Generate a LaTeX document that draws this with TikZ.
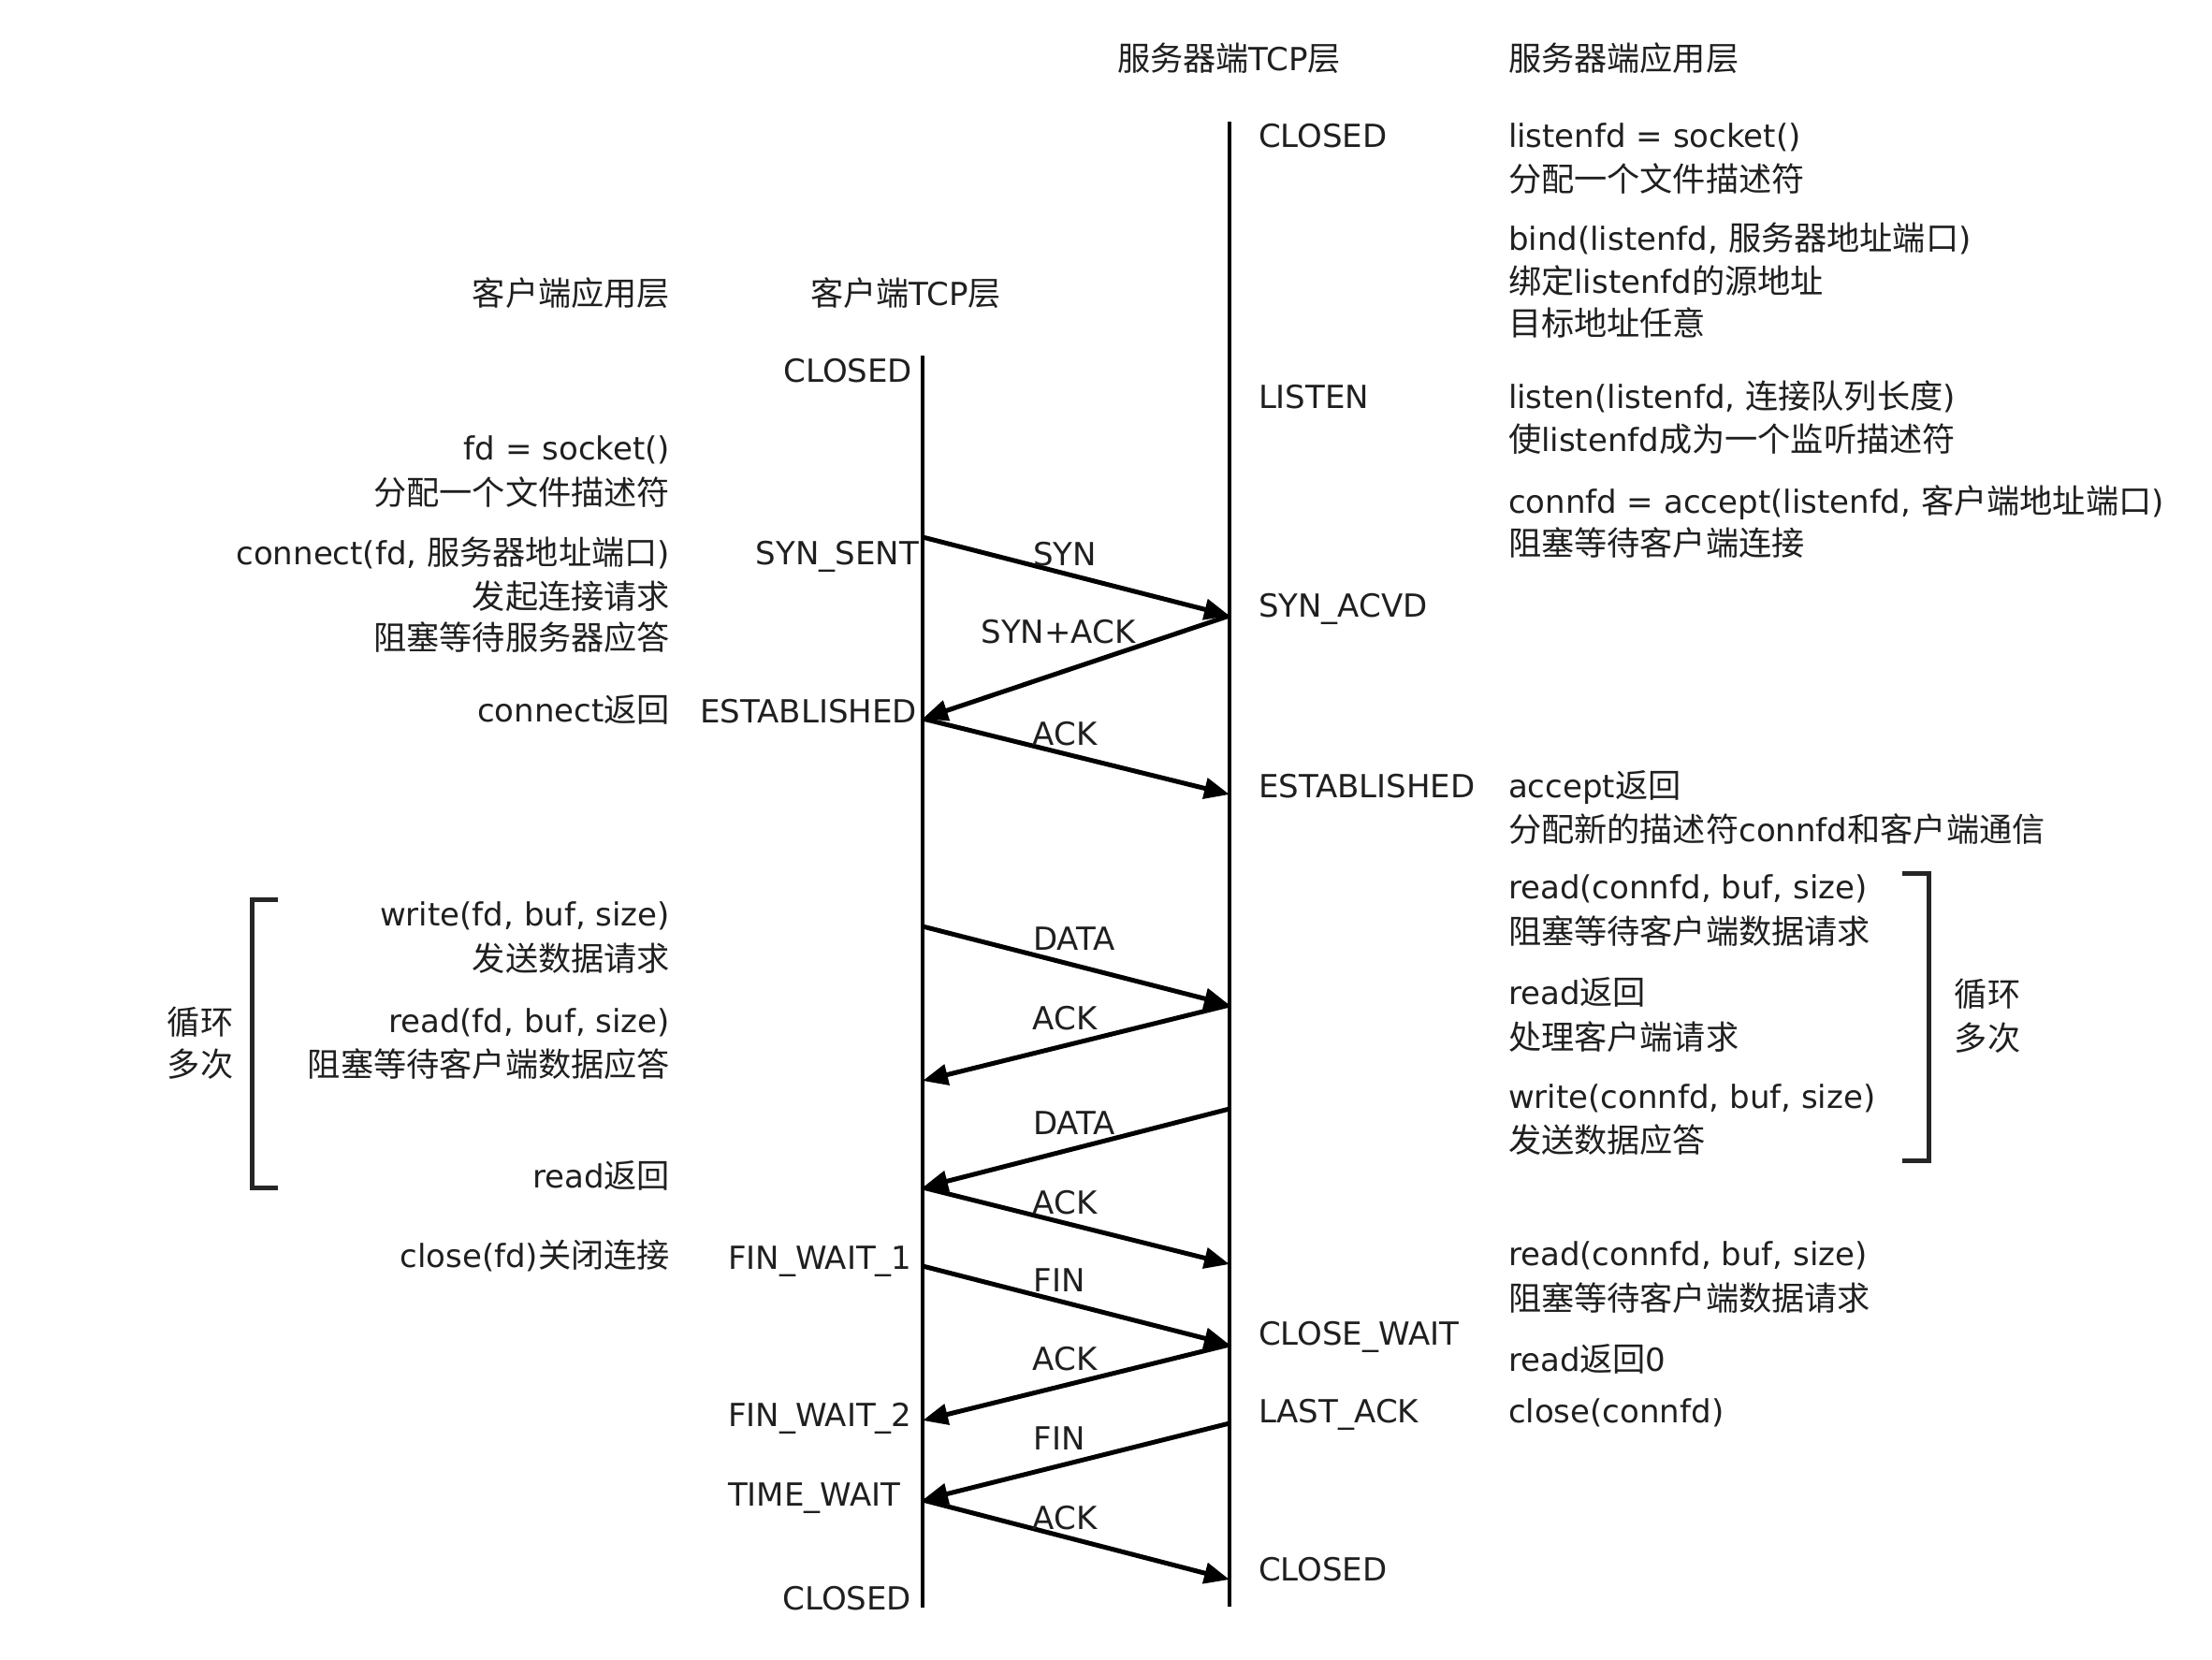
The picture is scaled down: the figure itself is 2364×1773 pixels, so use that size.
\documentclass[tikz,border=0pt]{standalone}
\usepackage{fontspec}
\setmainfont{DejaVu Sans}
\newfontfamily\cjk[Scale=1.035]{Noto Sans CJK SC}
\newcommand\zh[1]{{\cjk #1}}
\usetikzlibrary{arrows.meta}
\begin{document}
\begin{tikzpicture}[x=1pt,y=-1pt,
  txt/.style={inner sep=0pt, outer sep=0pt, text=black!88, font=\fontsize{34}{40}\selectfont},
  lw/.style={txt, anchor=base west},
  le/.style={txt, anchor=base east},
  lc/.style={txt, anchor=base},
  clife/.style={line width=3.5pt, black},
  slife/.style={line width=4.5pt, black},
  msg/.style={line width=5pt, black, -{Triangle[length=27pt,width=22pt]}},
  bracket/.style={line width=5pt, black!85}]
\fill[white] (0,0) rectangle (2364,1773);
\useasboundingbox (0,0) rectangle (2364,1773);

% ---------- headers ----------
\node[lw] (hsTcp) at (1194,75) {\zh{服务器端}TCP\zh{层}};
\node[lw] (hsApp) at (1612,75) {\zh{服务器端应用层}};
\node[le] (hcApp) at (716,326) {\zh{客户端应用层}};
\node[lw] (hcTcp) at (866,326) {\zh{客户端}TCP\zh{层}};

% ---------- lifelines ----------
\coordinate (cTop) at (986,380);
\coordinate (cBot) at (986,1718);
\coordinate (sTop) at (1314,130);
\coordinate (sBot) at (1314,1717);
\draw[clife] (cTop) -- (cBot);
\draw[slife] (sTop) -- (sBot);

% ---------- client TCP states ----------
\node[le] (cClosedA) at (975,408) {CLOSED};
\node[le] (cSynSent) at (982,603) {SYN\_SENT};
\node[le] (cEst) at (980,772) {ESTABLISHED};
\node[lw] (cFinA) at (778,1356) {FIN\_WAIT\_1};
\node[lw] (cFinB) at (778,1524) {FIN\_WAIT\_2};
\node[lw] (cTime) at (778,1609) {TIME\_WAIT};
\node[le] (cClosedB) at (974,1720) {CLOSED};

% ---------- client application ----------
\node[le] (ca1) at (716,491) {fd = socket()};
\node[le] (ca2) at (716,539) {\zh{分配一个文件描述符}};
\node[le] (ca3) at (716,603) {connect(fd, \zh{服务器地址端口})};
\node[le] (ca4) at (716,650) {\zh{发起连接请求}};
\node[le] (ca5) at (716,694) {\zh{阻塞等待服务器应答}};
\node[le] (ca6) at (716,771) {connect\zh{返回}};
\node[le] (ca7) at (716,989) {write(fd, buf, size)};
\node[le] (ca8) at (716,1037) {\zh{发送数据请求}};
\node[le] (ca9) at (716,1103) {read(fd, buf, size)};
\node[le] (ca10) at (716,1150) {\zh{阻塞等待客户端数据应答}};
\node[le] (ca11) at (716,1269) {read\zh{返回}};
\node[le] (ca12) at (716,1354) {close(fd)\zh{关闭连接}};

% left bracket
\coordinate (lbA) at (297,961);
\coordinate (lbB) at (269,961);
\coordinate (lbC) at (269,1269);
\coordinate (lbD) at (297,1269);
\draw[bracket] (lbA) -- (lbB) -- (lbC) -- (lbD);
\node[lc] (loopL1) at (214,1105) {\zh{循环}};
\node[lc] (loopL2) at (214,1150) {\zh{多次}};

% ---------- server TCP states ----------
\node[lw] (sClosedA) at (1345,157) {CLOSED};
\node[lw] (sListen) at (1345,436) {LISTEN};
\node[lw] (sSyn) at (1345,659) {SYN\_ACVD};
\node[lw] (sEst) at (1345,852) {ESTABLISHED};
\node[lw] (sCloseWait) at (1345,1437) {CLOSE\_WAIT};
\node[lw] (sLastAck) at (1345,1520) {LAST\_ACK};
\node[lw] (sClosedB) at (1345,1689) {CLOSED};

% ---------- server application ----------
\node[lw] (sa1) at (1612,157) {listenfd = socket()};
\node[lw] (sa2) at (1612,204) {\zh{分配一个文件描述符}};
\node[lw] (sa3) at (1612,267) {bind(listenfd, \zh{服务器地址端口})};
\node[lw] (sa4) at (1612,313) {\zh{绑定}listenfd\zh{的源地址}};
\node[lw] (sa5) at (1612,358) {\zh{目标地址任意}};
\node[lw] (sa6) at (1612,436) {listen(listenfd, \zh{连接队列长度})};
\node[lw] (sa7) at (1612,482) {\zh{使}listenfd\zh{成为一个监听描述符}};
\node[lw] (sa8) at (1612,548) {connfd = accept(listenfd, \zh{客户端地址端口})};
\node[lw] (sa9) at (1612,593) {\zh{阻塞等待客户端连接}};
\node[lw] (sa10) at (1612,852) {accept\zh{返回}};
\node[lw] (sa11) at (1612,899) {\zh{分配新的描述符}connfd\zh{和客户端通信}};
\node[lw] (sa12) at (1612,960) {read(connfd, buf, size)};
\node[lw] (sa13) at (1612,1008) {\zh{阻塞等待客户端数据请求}};
\node[lw] (sa14) at (1612,1073) {read\zh{返回}};
\node[lw] (sa15) at (1612,1121) {\zh{处理客户端请求}};
\node[lw] (sa16) at (1612,1184) {write(connfd, buf, size)};
\node[lw] (sa17) at (1612,1231) {\zh{发送数据应答}};
\node[lw] (sa18) at (1612,1352) {read(connfd, buf, size)};
\node[lw] (sa19) at (1612,1400) {\zh{阻塞等待客户端数据请求}};
\node[lw] (sa20) at (1612,1465) {read\zh{返回}0};
\node[lw] (sa21) at (1612,1520) {close(connfd)};

% right bracket
\coordinate (rbA) at (2033,933);
\coordinate (rbB) at (2061,933);
\coordinate (rbC) at (2061,1240);
\coordinate (rbD) at (2033,1240);
\draw[bracket] (rbA) -- (rbB) -- (rbC) -- (rbD);
\node[lc] (loopR1) at (2124,1075) {\zh{循环}};
\node[lc] (loopR2) at (2124,1122) {\zh{多次}};

% ---------- message endpoints ----------
\coordinate (c1) at (986,574);
\coordinate (s1) at (1314,658);
\coordinate (c2) at (986,768);
\coordinate (s2) at (1314,849);
\coordinate (c3) at (986,990);
\coordinate (s3) at (1314,1074);
\coordinate (c4) at (986,1155);
\coordinate (s4) at (1314,1185);
\coordinate (c5) at (986,1269);
\coordinate (s5) at (1314,1351);
\coordinate (c6) at (986,1353);
\coordinate (s6) at (1314,1437);
\coordinate (c7) at (986,1518);
\coordinate (s7) at (1314,1521);
\coordinate (c8) at (986,1603);
\coordinate (s8) at (1314,1688);

% ---------- messages ----------
\draw[msg] (c1) -- (s1);
\draw[msg] (s1) -- (c2);
\draw[msg] (c2) -- (s2);
\draw[msg] (c3) -- (s3);
\draw[msg] (s3) -- (c4);
\draw[msg] (s4) -- (c5);
\draw[msg] (c5) -- (s5);
\draw[msg] (c6) -- (s6);
\draw[msg] (s6) -- (c7);
\draw[msg] (s7) -- (c8);
\draw[msg] (c8) -- (s8);

% ---------- message labels ----------
\node[lc] (m1) at (1138,604) {SYN};
\node[lc] (m2) at (1131,687) {SYN+ACK};
\node[lc] (m3) at (1138,796) {ACK};
\node[lc] (m4) at (1148,1015) {DATA};
\node[lc] (m5) at (1138,1100) {ACK};
\node[lc] (m6) at (1148,1212) {DATA};
\node[lc] (m7) at (1138,1297) {ACK};
\node[lc] (m8) at (1132,1380) {FIN};
\node[lc] (m9) at (1138,1464) {ACK};
\node[lc] (m10) at (1132,1549) {FIN};
\node[lc] (m11) at (1138,1634) {ACK};
\end{tikzpicture}
\end{document}
